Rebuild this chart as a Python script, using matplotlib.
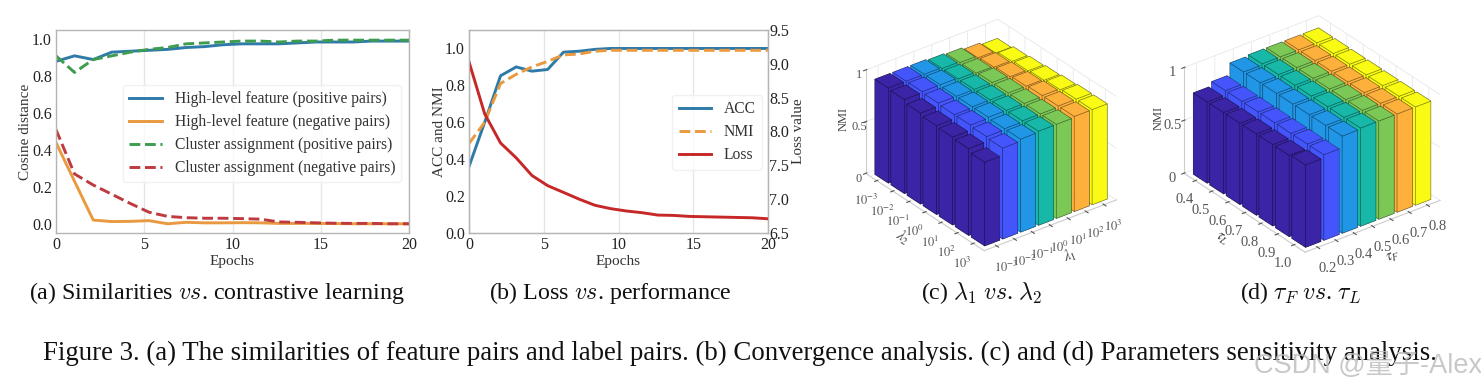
import numpy as np
import matplotlib
matplotlib.use('Agg')
import matplotlib.pyplot as plt

plt.rcParams['font.family'] = ['Liberation Serif', 'DejaVu Serif']
plt.rcParams['mathtext.fontset'] = 'stix'

W, H = 1481, 391

epochs = [0, 1.05, 2.11, 3.16, 4.21, 5.26, 6.32, 7.37, 8.42, 9.47,
          10.53, 11.58, 12.63, 13.68, 14.74, 15.79, 16.84, 17.89, 18.95, 20]

high_pos = [0.88, 0.91, 0.89, 0.93, 0.935, 0.94, 0.945, 0.955, 0.96, 0.97,
            0.975, 0.975, 0.975, 0.98, 0.985, 0.985, 0.985, 0.99, 0.99, 0.99]
high_neg = [0.44, 0.23, 0.02, 0.012, 0.013, 0.017, 0.0, 0.008, 0.005, 0.005,
            0.006, 0.005, 0.002, 0.002, 0.002, 0.001, 0.0, 0.0, 0.0, 0.0]
clus_pos = [0.91, 0.82, 0.89, 0.91, 0.93, 0.945, 0.955, 0.975, 0.98, 0.985,
            0.99, 0.99, 0.985, 0.99, 0.99, 0.995, 0.995, 0.995, 0.995, 0.995]
clus_neg = [0.51, 0.27, 0.21, 0.16, 0.11, 0.063, 0.04, 0.033, 0.03, 0.03,
            0.028, 0.025, 0.01, 0.008, 0.005, 0.003, 0.002, 0.002, 0.0, 0.0]

acc = [0.36, 0.60, 0.852, 0.90, 0.877, 0.886, 0.98, 0.985, 0.995, 1.0,
       1.0, 1.0, 1.0, 1.0, 1.0, 1.0, 1.0, 1.0, 1.0, 1.0]
nmi = [0.485, 0.60, 0.81, 0.86, 0.90, 0.93, 0.965, 0.97, 0.985, 0.99,
       0.99, 0.99, 0.99, 0.99, 0.99, 0.99, 0.99, 0.99, 0.99, 0.99]
loss = [9.03, 8.26, 7.83, 7.61, 7.35, 7.2, 7.1, 7.0, 6.91, 6.86,
        6.825, 6.8, 6.765, 6.76, 6.745, 6.74, 6.735, 6.73, 6.725, 6.71]

# rows follow lambda_1 / tau_F, columns follow lambda_2 / tau_L
nmi_c = [[0.92, 0.91, 0.88, 0.86, 0.85, 0.84, 0.81],
         [0.92, 0.92, 0.91, 0.90, 0.90, 0.89, 0.88],
         [0.92, 0.92, 0.91, 0.91, 0.91, 0.90, 0.90],
         [0.91, 0.91, 0.91, 0.91, 0.91, 0.91, 0.91],
         [0.90, 0.90, 0.91, 0.91, 0.91, 0.91, 0.91],
         [0.88, 0.89, 0.90, 0.91, 0.92, 0.92, 0.92],
         [0.86, 0.88, 0.89, 0.90, 0.91, 0.92, 0.92]]
nmi_d = [[0.77, 0.77, 0.77, 0.77, 0.77, 0.77, 0.78],
         [0.81, 0.81, 0.81, 0.81, 0.81, 0.81, 0.81],
         [0.92, 0.92, 0.92, 0.92, 0.92, 0.92, 0.92],
         [0.93, 0.93, 0.93, 0.93, 0.93, 0.93, 0.93],
         [0.93, 0.93, 0.93, 0.93, 0.93, 0.93, 0.93],
         [0.93, 0.93, 0.93, 0.93, 0.93, 0.93, 0.93],
         [0.93, 0.93, 0.93, 0.93, 0.93, 0.93, 0.93]]

lambda_labels = [r'$10^{-3}$', r'$10^{-2}$', r'$10^{-1}$', r'$10^{0}$', r'$10^{1}$', r'$10^{2}$', r'$10^{3}$']
tau_l_labels = ['0.4', '0.5', '0.6', '0.7', '0.8', '0.9', '1.0']
tau_f_labels = ['0.2', '0.3', '0.4', '0.5', '0.6', '0.7', '0.8']
parula = ['#3b25a6', '#4355fb', '#2196e6', '#18b8a8', '#7cc857', '#fdb03c', '#f9fb15']


def px_axes(fig, left, top, right, bottom, **kw):
    return fig.add_axes([left / W, 1 - bottom / H, (right - left) / W, (bottom - top) / H], **kw)


def style_line_axes(ax):
    ax.grid(axis='x', color='#e6e6e6', lw=1)
    ax.set_axisbelow(True)
    ax.tick_params(length=0, labelsize=11.5, colors='#222222', pad=3)
    for s in ax.spines.values():
        s.set_color('#b5b5b5')
        s.set_linewidth(1)


def bars(rect, heights, xlabels, ylabels, xname, yname, ticksize, zoom, zpad, nmipad):
    ax = fig.add_axes(rect, projection='3d', proj_type='ortho')
    ax.patch.set_alpha(0)
    ax.view_init(elev=30, azim=-37.5)
    ax.set_box_aspect((194, 166, 119), zoom=zoom)
    xs, ys, zs, cs = [], [], [], []
    for i, row in enumerate(heights):
        for j, h in enumerate(row):
            xs.append(j + 1 - 0.42)
            ys.append(i + 1 - 0.42)
            zs.append(h)
            cs.append(parula[i])
    ax.bar3d(xs, ys, 0, 0.84, 0.84, zs, color=cs, shade=False, edgecolor=(0, 0, 0, 0.35), linewidth=0.5)
    ax.set_xlim(0.31, 7.69)
    ax.set_ylim(0.31, 7.69)
    ax.set_zlim(0, 1)
    ax.set_xticks(range(1, 8), xlabels)
    ax.set_yticks(range(1, 8), ylabels)
    ax.set_zticks([0, 0.5, 1], ['0', '0.5', '1'])
    ax.tick_params(labelsize=ticksize, colors='#555555', pad=zpad)
    ax.tick_params(axis='x', pad=1)
    ax.tick_params(axis='y', pad=1)
    ax.zaxis.set_ticks_position('lower')
    ax.zaxis.set_label_position('lower')
    ax.zaxis.set_rotate_label(False)
    ax.set_xlabel(xname, fontsize=10.5, labelpad=-2, color='#444444')
    ax.set_ylabel(yname, fontsize=10.5, labelpad=-2, color='#444444')
    ax.set_zlabel('NMI', fontsize=9, labelpad=nmipad, color='#444444', rotation=90)
    for axis in (ax.xaxis, ax.yaxis, ax.zaxis):
        axis.set_pane_color((1, 1, 1, 0))
        axis.pane.set_edgecolor('#dddddd')
        axis.line.set_color('#cccccc')
        axis._axinfo['grid']['color'] = '#e8e8e8'
        axis._axinfo['grid']['linewidth'] = 0.6
        axis._axinfo['tick']['color'] = '#bbbbbb'
    return ax


fig = plt.figure(figsize=(W / 100, H / 100), dpi=100)

# (a)
ax1 = px_axes(fig, 56, 30, 409, 233)
ax1.plot(epochs, high_pos, color='#2e7aa8', lw=2.1, label='High-level feature (positive pairs)')
ax1.plot(epochs, high_neg, color='#e9993f', lw=2.1, label='High-level feature (negative pairs)')
ax1.plot(epochs, clus_pos, color='#3d9c4e', lw=2.1, ls='--', label='Cluster assignment (positive pairs)')
ax1.plot(epochs, clus_neg, color='#bd3b3f', lw=2.1, ls='--', label='Cluster assignment (negative pairs)')
ax1.set_xlim(0, 20)
ax1.set_ylim(-0.05, 1.05)
ax1.set_xticks([0, 5, 10, 15, 20])
ax1.set_yticks([0, 0.2, 0.4, 0.6, 0.8, 1.0])
style_line_axes(ax1)
ax1.set_xlabel('Epochs', fontsize=11, labelpad=1, color='#333333')
ax1.set_ylabel('Cosine distance', fontsize=11, labelpad=0, color='#333333')
ax1.legend(loc='upper left', bbox_to_anchor=(0.19, 0.73), fontsize=11.25, borderaxespad=0,
           labelspacing=0.45, handlelength=2.1, handletextpad=0.8, borderpad=0.4,
           framealpha=0.8, edgecolor='#eeeeee', labelcolor='#333333')

# (b)
ax2 = px_axes(fig, 469, 30, 768, 233)
l1, = ax2.plot(epochs, acc, color='#2e7aa8', lw=2.1, label='ACC')
l2, = ax2.plot(epochs, nmi, color='#e9993f', lw=2.1, ls='--', label='NMI')
ax2.set_xlim(0, 20)
ax2.set_ylim(0, 1.1)
ax2.set_xticks([0, 5, 10, 15, 20])
ax2.set_yticks([0, 0.2, 0.4, 0.6, 0.8, 1.0])
style_line_axes(ax2)
ax2.set_xlabel('Epochs', fontsize=11, labelpad=1, color='#333333')
ax2.set_ylabel('ACC and NMI', fontsize=11, labelpad=-1, color='#333333')
ax2b = ax2.twinx()
l3, = ax2b.plot(epochs, loss, color='#c62828', lw=2.1, label='Loss')
ax2b.set_ylim(6.5, 9.5)
ax2b.set_yticks([6.5, 7.0, 7.5, 8.0, 8.5, 9.0, 9.5])
ax2b.tick_params(length=0, labelsize=11.5, colors='#222222', pad=1)
for s in ax2b.spines.values():
    s.set_color('#b5b5b5')
ax2b.set_ylabel('Loss value', fontsize=11, labelpad=2, color='#333333')
ax2b.legend(handles=[l1, l2, l3], loc='upper left', bbox_to_anchor=(0.68, 0.68), fontsize=11.25,
            borderaxespad=0, labelspacing=0.45, handlelength=2.1, handletextpad=0.8, borderpad=0.4,
            framealpha=0.8, edgecolor='#eeeeee', labelcolor='#333333')

# (c), (d)
bars([837 / W, 1 - 289 / H, 300 / W, 300 / H], nmi_c, lambda_labels, lambda_labels,
     r'$\lambda_2$', r'$\lambda_1$', 9, 0.915, -5, -11)
bars([1158 / W, 1 - 288 / H, 300 / W, 300 / H], nmi_d, tau_l_labels, tau_f_labels,
     r'$\tau_L$', r'$\tau_F$', 10.5, 0.935, -3, -10)

captions = [(217, r'(a) Similarities $vs$. contrastive learning'),
            (610, r'(b) Loss $vs$. performance'),
            (982, r'(c) $\lambda_1$ $vs$. $\lambda_2$'),
            (1301, r'(d) $\tau_F$ $vs$. $\tau_L$')]
for x, s in captions:
    fig.text(x / W, 1 - 293 / H, s, fontsize=17.3, ha='center', va='center', color='#111111', math_fontfamily='cm')

fig.text(740 / W, 1 - 353 / H,
         'Figure 3. (a) The similarities of feature pairs and label pairs. (b) Convergence analysis. '
         '(c) and (d) Parameters sensitivity analysis.',
         fontsize=19.35, ha='center', va='center', color='#111111')
fig.text(1254 / W, 1 - 366 / H, 'CSDN @量子-Alex', fontsize=19.5, ha='left', va='center', color='#bbbbbb',
         alpha=0.8, family=['Liberation Sans', 'Noto Sans CJK SC'])

fig.savefig('out.png', dpi=100)
